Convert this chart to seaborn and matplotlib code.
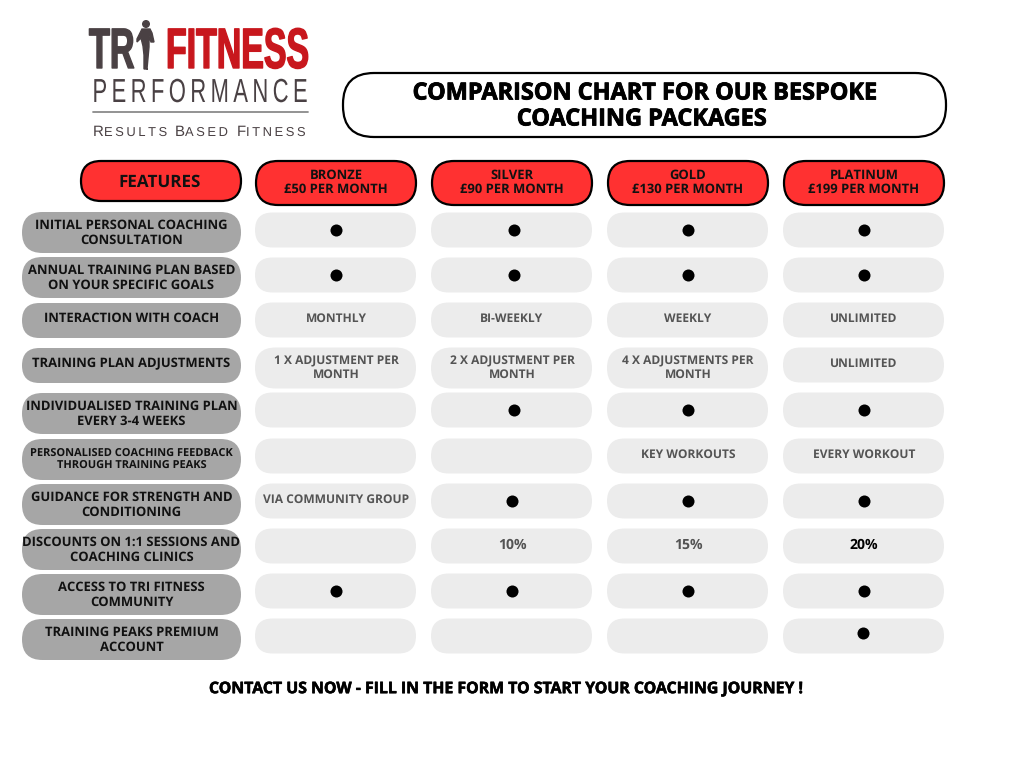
import matplotlib
matplotlib.use('Agg')
import matplotlib.pyplot as plt
import matplotlib.patheffects as pe
from matplotlib.patches import FancyBboxPatch, Circle
from matplotlib.transforms import Affine2D
import pandas as pd
import seaborn as sns

features = [
    'INITIAL PERSONAL COACHING\nCONSULTATION',
    'ANNUAL TRAINING PLAN BASED\nON YOUR SPECIFIC GOALS',
    'INTERACTION WITH COACH',
    'TRAINING PLAN ADJUSTMENTS',
    'INDIVIDUALISED TRAINING PLAN\nEVERY 3-4 WEEKS',
    'PERSONALISED COACHING FEEDBACK\nTHROUGH TRAINING PEAKS',
    'GUIDANCE FOR STRENGTH AND\nCONDITIONING',
    'DISCOUNTS ON 1:1 SESSIONS AND\nCOACHING CLINICS',
    'ACCESS TO TRI FITNESS\nCOMMUNITY',
    'TRAINING PEAKS PREMIUM\nACCOUNT',
]
packages = ['BRONZE\n£50 PER MONTH', 'SILVER\n£90 PER MONTH', 'GOLD\n£130 PER MONTH', 'PLATINUM\n£199 PER MONTH']

# 'x' is a dot, '' is an empty cell, anything else is printed
bronze = ['x', 'x', 'MONTHLY', '1 X ADJUSTMENT PER\nMONTH', '', '', 'VIA COMMUNITY GROUP', '', 'x', '']
silver = ['x', 'x', 'BI-WEEKLY', '2 X ADJUSTMENT PER\nMONTH', 'x', '', 'x', '10%', 'x', '']
gold = ['x', 'x', 'WEEKLY', '4 X ADJUSTMENTS PER\nMONTH', 'x', 'KEY WORKOUTS', 'x', '15%', 'x', '']
platinum = ['x', 'x', 'UNLIMITED', 'UNLIMITED', 'x', 'EVERY WORKOUT', 'x', '20%', 'x', 'x']
columns = [bronze, silver, gold, platinum]

# layout, in pixels of the 1024x768 page
col_left = [255, 431, 607, 783]
col_width = 161
row_mid = [230, 275, 320, 365, 410, 456, 501, 546, 591, 636]
label_h = [41, 41, 35, 35, 41, 41, 41, 41, 41, 41]
label_top = [212, 257, 303, 348, 393, 439, 484, 529, 574, 619]

sns.set_theme(style='white')
plt.rcParams['font.family'] = ['Open Sans', 'DejaVu Sans']
plt.rcParams['text.hinting'] = 'no_hinting'
plt.rcParams['text.hinting_factor'] = 1

DARK = '#4a4144'
RED = '#c8171d'
LOGO_FONT = ['Liberation Sans', 'DejaVu Sans']
THIN = '\u2009'

fig = plt.figure(figsize=(10.24, 7.68), dpi=100)
ax = fig.add_axes([0, 0, 1, 1])
ax.set_xlim(0, 1024)
ax.set_ylim(768, 0)
ax.axis('off')


class Squeeze(pe.AbstractPathEffect):
    # narrows a text about one x, no condensed font is installed
    def __init__(self, x0, sx, stroke=0):
        super().__init__()
        self.x0, self.sx, self.stroke = x0, sx, stroke

    def draw_path(self, renderer, gc, tpath, affine, rgbFace=None):
        gc0 = renderer.new_gc()
        gc0.copy_properties(gc)
        gc0.set_linewidth(self.stroke)
        gc0.set_foreground(rgbFace)
        squeezed = affine + Affine2D().translate(-self.x0, 0).scale(self.sx, 1).translate(self.x0, 0)
        renderer.draw_path(gc0, tpath, squeezed, rgbFace)
        gc0.restore()


def pill(x, y, w, h, color, edge='none', lw=0, r=None):
    r = h / 2 if r is None else r
    ax.add_patch(FancyBboxPatch((x + r, y + r), w - 2 * r, h - 2 * r,
                                boxstyle='round,pad=%f,rounding_size=%f' % (r, r),
                                fc=color, ec=edge, lw=lw, zorder=1))


# logo
ax.text(89, 68, 'TR', color=DARK, fontsize=41, fontweight='bold', family=LOGO_FONT, va='baseline',
        path_effects=[Squeeze(89, 0.60, 1.0)])
ax.text(166, 68, 'FITNESS', color=RED, fontsize=41, fontweight='bold', family=LOGO_FONT, va='baseline',
        path_effects=[Squeeze(166, 0.595, 1.0)])
ax.add_patch(Circle((146, 24), 3.3, color=DARK, zorder=2))
ax.fill([142, 150, 152, 154, 151, 149, 149, 147, 148, 144, 144, 143, 141, 137, 137],
        [29, 29, 33, 42, 42, 36, 47, 69, 69, 69, 55, 46, 38, 42, 39], color=DARK, zorder=2)
ax.text(199, 102, THIN.join('PERFORMANCE'), fontsize=24, color=DARK, family=LOGO_FONT, ha='center', va='baseline',
        path_effects=[Squeeze(199, 0.66)])
ax.plot([93, 308], [112, 112], color='#8a8a8a', lw=1.3)
for first, rest, x0, x1 in [('R', 'ESULTS', 93, 104), ('B', 'ASED', 175, 185), ('F', 'ITNESS', 237, 246)]:
    ax.text(x0, 136, first, fontsize=11, color=DARK, family=LOGO_FONT, va='baseline')
    ax.text(x1, 136, THIN.join(rest), fontsize=9.3, color=DARK, family=LOGO_FONT, va='baseline',
            path_effects=[Squeeze(x1, 1.0)])

# title
pill(343, 73, 603, 64, 'white', 'black', 1.6, r=31)
for line, y in zip(['COMPARISON CHART FOR OUR BESPOKE', 'COACHING PACKAGES'], [93.5, 119.5]):
    ax.text(640.5, y, line, fontsize=16.9, fontweight='bold', color='black', ha='center', va='center',
            path_effects=[pe.withStroke(linewidth=0.6, foreground='black')])

# header row
pill(81, 161, 160, 40, '#ff3131', 'black', 1.6)
ax.text(159.5, 182, 'FEATURES', fontsize=12, fontweight='bold', color='#111111', ha='center', va='center')
for left, name in zip(col_left, packages):
    pill(left + 1, 161, col_width - 1, 44, '#ff3131', 'black', 1.6)
    ax.text(left + 81, 182.5, name, fontsize=9.1, fontweight='bold', color='#111111', ha='center', va='center', linespacing=1.1)

# feature labels
for feature, top, h in zip(features, label_top, label_h):
    pill(22, top, 219, h, '#a6a6a6')
    small = feature.startswith('PERSONALISED')
    ax.text(131.5, top + (16 if h < 40 else 21), feature, fontsize=7.9 if small else 9.2, fontweight='bold', color='#111111',
            ha='center', va='center', linespacing=1.17 if small else 1.17)

# cells
dot_nudge = {(1, 0): (2, 0), (1, 1): (2, 0), (1, 4): (2, 0), (3, 9): (-1, -3)}
dots = []
for c, (left, col) in enumerate(zip(col_left, columns)):
    for r, (value, mid) in enumerate(zip(col, row_mid)):
        h = 41 if '\n' in value else 35
        pill(left, mid - 17.5, col_width, h, '#ececec')
        if value == 'x':
            dx, dy = dot_nudge.get((c, r), (0, 0))
            dots.append({'x': left + 81 + dx, 'y': mid + dy})
        elif value:
            color = 'black' if value == '20%' else '#545454'
            y = mid + 3.5 if '\n' in value else mid - 1
            size = 10.4 if value.endswith('%') else 8.7
            ax.text(left + 81, y, value, fontsize=size, fontweight='bold', color=color, ha='center', va='center', linespacing=1.16)

sns.scatterplot(data=pd.DataFrame(dots), x='x', y='y', s=75, color='black', linewidth=0, ax=ax, zorder=3, legend=False)
ax.set_xlim(0, 1024)
ax.set_ylim(768, 0)
ax.axis('off')

# footer
ax.text(510.5, 689, 'CONTACT US NOW - FILL IN THE FORM TO START YOUR COACHING JOURNEY !', fontsize=11.4, fontweight='bold',
        color='black', ha='center', va='center', path_effects=[pe.withStroke(linewidth=0.4, foreground='black')])

fig.savefig('out.png', dpi=100)
